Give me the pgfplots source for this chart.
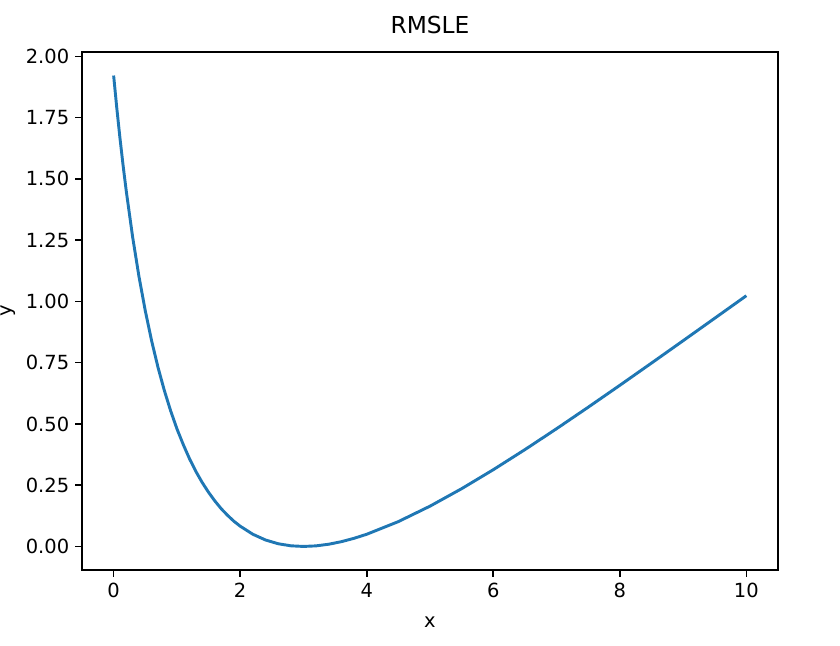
\documentclass[border=0pt]{standalone}
\usepackage{fontspec}
\setmainfont{DejaVu Sans}
\usepackage{pgfplots}
\pgfplotsset{compat=1.18}
\definecolor{mplblue}{HTML}{1F77B4}
\begin{document}
\begin{tikzpicture}
\begin{axis}[
    scale only axis,
    width=522pt,
    height=388.5pt,
    xmin=-0.5, xmax=10.5,
    ymin=-0.0961, ymax=2.0179,
    xtick={0,2,4,6,8,10},
    ytick={0,0.25,0.5,0.75,1,1.25,1.5,1.75,2},
    yticklabel style={/pgf/number format/fixed,/pgf/number format/fixed zerofill,/pgf/number format/precision=2,xshift=-1pt},
    /pgf/number format/assume math mode=true,
    tick align=outside,
    tick pos=left,
    major tick length=5.1pt,
    every tick/.style={black,line width=1.17pt},
    axis line style={line width=1.17pt},
    ticklabel style={font=\fontsize{14.6}{17}\selectfont},
    xticklabel style={yshift=-1pt},
    label style={font=\fontsize{14.6}{17}\selectfont},
    xlabel={x},
    ylabel={y},
    xlabel style={at={(axis description cs:0.5,-0.1004)},anchor=center},
    ylabel style={at={(axis description cs:-0.1063,0.5)},anchor=center},
    title={RMSLE},
    title style={at={(axis description cs:0.5,1.0367)},anchor=center,font=\fontsize{17.5}{21}\selectfont},
]
\addplot[mplblue, line width=2.19pt] coordinates {
(0,1.921812) (0.05,1.788917) (0.1,1.666640) (0.15,1.553842) (0.2,1.449551)
(0.3,1.263219) (0.4,1.102126) (0.5,0.962026) (0.6,0.839589) (0.7,0.732164)
(0.8,0.637615) (0.9,0.554191) (1.0,0.480453) (1.1,0.416) (1.2,0.357409)
(1.3,0.306) (1.4,0.260943) (1.5,0.221) (1.6,0.185574) (1.7,0.154) (1.8,0.127217)
(1.9,0.103) (2.0,0.082761) (2.2,0.049793) (2.4,0.026412) (2.6,0.011101)
(2.8,0.002631) (3.0,0) (3.2,0.002380) (3.4,0.009084) (3.6,0.019533)
(3.8,0.033241) (4.0,0.049793) (4.5,0.101413) (5.0,0.164402) (5.5,0.235718)
(6.0,0.313170) (6.5,0.395149) (7.0,0.480453) (7.5,0.568172) (8.0,0.657608)
(8.5,0.748220) (9.0,0.839589) (9.5,0.931381) (10,1.023337)
};
\end{axis}
\pgfresetboundingbox
\path[use as bounding box] (current axis.south west)++(-61.5pt,-57pt) rectangle ++(630pt,484.5pt);
\end{tikzpicture}
\end{document}
